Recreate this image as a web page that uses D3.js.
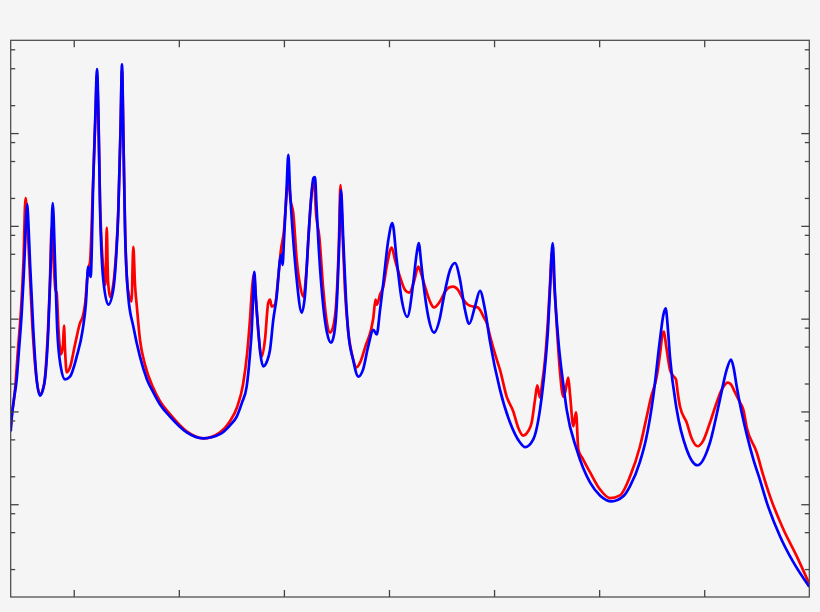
<!DOCTYPE html>
<html><head><meta charset="utf-8">
<script src="https://cdn.jsdelivr.net/npm/d3@7"></script>
<style>html,body{margin:0;padding:0;background:#f5f5f6;} svg{display:block}</style>
</head><body>
<svg id="chart" width="820" height="612"></svg>
<script>
// Frequency (Hz) and level (dB) of the two spectra
const freqBlue = [40.0,41.0,43.1,45.7,47.9,50.5,52.2,53.6,54.8,55.8,
56.7,58.4,61.5,64.7,67.9,70.7,72.6,75.8,78.1,80.0,
82.2,84.3,87.6,91.7,96.4,102.8,108.5,111.6,113.8,116.1,
118.6,120.7,122.1,123.6,125.0,128.1,132.9,137.6,140.2,142.4,
144.5,145.9,147.3,148.8,151.9,156.7,163.0,169.7,175.7,182.1,
191.6,207.5,223.3,239.2,248.7,255.1,260.1,264.6,267.7,269.4,
270.6,271.8,273.4,275.6,277.7,280.4,283.9,286.8,289.9,293.1,
296.3,297.7,298.7,300.1,302.5,304.2,305.8,308.9,312.2,316.9,
320.1,323.2,325.8,328.0,329.6,331.0,332.7,337.5,341.0,344.8,
347.7,350.2,352.4,354.3,356.5,359.1,361.3,365.8,370.8,375.3,
380.0,385.1,388.3,391.5,394.6,399.4,403.2,407.3,412.1,417.4,
423.1,426.2,428.3,430.5,432.7,437.4,442.8,448.5,451.7,458.1,
462.8,467.6,472.3,476.4,481.8,486.6,491.4,496.1,505.6,515.2,
524.7,529.5,537.3,543.7,548.5,551.3,553.2,555.8,558.0,561.1,
565.9,569.1,578.6,591.3,600.8,611.9,623.0,629.4,638.9,644.6,
651.5,657.9,661.2,663.3,665.5,667.4,673.8,683.3,693.6,705.5,
715.0,721.4,725.5,727.9,730.9,734.1,740.4,746.7,753.1,759.5,
772.1,784.8,800.0];
const levelBlue = [-84.3,-81.3,-77.4,-73.1,-66.7,-58.7,-51.6,-44.5,-37.6,-35.3,
-38.7,-48.0,-62.4,-73.1,-76.6,-75.3,-73.1,-62.4,-48.0,-35.1,
-48.0,-62.4,-70.3,-73.1,-72.5,-68.2,-62.4,-56.6,-48.8,-51.0,
-30.1,-15.1,-6.2,-17.2,-35.9,-51.6,-57.0,-53.8,-47.3,-37.2,
-19.4,-5.2,-21.5,-40.9,-55.3,-61.7,-68.2,-73.1,-75.9,-78.5,
-81.1,-84.5,-85.8,-84.9,-83.0,-81.1,-78.1,-74.6,-67.7,-62.4,
-55.9,-49.9,-55.9,-62.4,-67.7,-70.3,-69.2,-66.7,-60.2,-55.3,
-47.3,-46.2,-48.4,-43.0,-32.3,-24.7,-32.3,-43.0,-51.6,-58.7,
-54.8,-43.0,-34.4,-29.7,-29.5,-35.5,-43.0,-57.4,-63.0,-65.2,
-63.4,-57.4,-45.2,-32.3,-43.0,-55.9,-63.0,-68.8,-72.5,-71.0,
-66.2,-62.4,-63.4,-58.1,-52.3,-43.0,-39.4,-47.3,-55.9,-59.6,
-52.3,-46.2,-43.7,-47.7,-52.3,-59.6,-63.0,-59.8,-55.9,-49.5,
-48.0,-51.6,-58.1,-61.1,-57.4,-54.0,-58.1,-64.9,-75.3,-82.4,
-86.7,-87.7,-86.0,-79.6,-70.3,-62.4,-53.8,-43.7,-54.8,-64.5,
-74.2,-79.6,-88.2,-95.3,-98.1,-99.4,-98.3,-96.1,-90.8,-86.0,
-76.8,-64.5,-59.1,-57.8,-62.4,-68.2,-79.6,-88.2,-91.6,-86.7,
-77.4,-71.0,-68.8,-70.5,-74.6,-78.5,-84.9,-90.3,-94.8,-99.6,
-106.9,-112.5,-117.8];

const freqRed = [40.0,41.2,44.1,46.9,49.8,52.2,54.1,55.5,57.4,60.3,
64.1,67.9,71.7,74.5,77.4,79.0,80.7,82.6,83.7,85.5,
87.9,89.8,90.7,91.7,93.3,96.4,101.2,106.0,108.5,110.7,
113.6,115.5,118.3,120.7,122.1,123.6,125.0,127.8,130.2,131.4,
132.6,134.5,137.6,140.2,142.4,144.5,145.9,147.3,148.8,151.6,
155.0,156.7,158.3,159.9,163.0,167.8,175.4,182.1,191.6,207.5,
223.3,239.2,248.7,255.4,261.1,264.9,267.7,269.6,271.5,273.4,
275.8,278.8,282.0,285.1,286.8,288.4,291.5,294.4,297.2,300.1,
302.5,304.2,306.3,308.9,312.2,315.3,318.5,321.5,324.4,326.7,
328.6,330.7,333.7,337.5,340.5,343.9,346.7,350.0,352.4,353.8,
355.7,358.1,361.0,364.8,369.3,372.4,378.1,382.9,385.1,387.2,
388.6,391.5,394.6,398.1,402.6,405.7,410.5,415.2,419.3,423.8,
427.9,430.9,434.3,439.0,442.8,448.5,453.3,457.1,461.2,465.7,
470.7,475.2,480.2,484.7,486.6,490.4,493.0,496.1,502.5,505.6,
512.0,518.3,522.8,527.8,532.3,535.8,539.0,541.1,543.7,545.6,
548.5,551.3,553.2,555.1,557.0,559.9,562.7,565.9,567.8,570.6,
572.3,575.4,578.0,580.2,584.6,591.3,600.8,610.3,619.8,629.4,
638.9,645.3,649.3,654.8,657.9,660.3,661.7,663.6,667.4,670.3,
673.1,675.0,676.9,683.3,688.4,693.8,698.8,705.5,711.2,716.6,
719.7,722.3,725.5,729.3,734.1,737.2,740.4,749.9,756.2,762.6,
775.3,788.0,800.0];
const levelRed = [-83.4,-80.6,-75.3,-66.7,-58.1,-47.3,-34.0,-37.6,-46.2,-60.2,
-72.0,-76.3,-74.2,-66.7,-51.6,-40.2,-47.3,-53.8,-54.4,-62.4,
-67.7,-65.6,-61.5,-66.7,-71.6,-70.5,-65.6,-60.9,-59.6,-57.0,
-49.5,-47.7,-31.2,-16.1,-7.5,-18.3,-34.4,-48.4,-52.7,-40.4,
-51.6,-55.3,-52.7,-46.2,-36.6,-19.4,-6.5,-21.5,-39.8,-53.8,
-56.3,-44.5,-52.7,-57.0,-64.5,-69.9,-74.8,-77.8,-80.6,-84.3,
-85.8,-84.5,-82.1,-79.1,-74.2,-67.7,-60.2,-53.8,-50.5,-55.9,
-63.4,-68.2,-64.5,-56.6,-55.9,-57.4,-57.0,-51.6,-45.2,-40.9,
-33.3,-29.7,-34.4,-37.2,-47.3,-52.7,-55.3,-49.5,-38.7,-32.3,
-30.5,-37.6,-42.4,-53.8,-60.2,-63.0,-61.9,-55.9,-43.0,-31.2,
-40.9,-53.8,-62.4,-67.7,-70.5,-69.5,-65.6,-62.4,-59.8,-55.9,
-57.0,-54.8,-53.1,-48.4,-44.7,-47.3,-51.0,-53.8,-54.4,-52.0,
-48.8,-50.5,-53.1,-56.3,-57.6,-56.3,-54.2,-53.3,-53.1,-53.8,
-55.9,-57.0,-57.4,-57.6,-58.1,-59.8,-60.9,-63.7,-68.8,-71.0,
-76.8,-80.0,-83.4,-85.2,-84.3,-82.4,-77.4,-74.4,-77.0,-74.2,
-68.8,-60.2,-52.7,-45.6,-51.6,-62.4,-71.4,-76.8,-75.7,-72.7,
-76.3,-83.2,-80.2,-88.2,-90.3,-93.1,-96.8,-98.7,-98.1,-94.0,
-87.5,-81.1,-77.0,-72.5,-67.7,-63.4,-62.8,-65.6,-71.0,-72.3,
-73.1,-76.3,-78.9,-82.4,-86.0,-87.5,-86.4,-82.4,-78.5,-75.3,
-74.2,-73.8,-74.2,-75.9,-78.1,-79.6,-83.4,-88.8,-93.8,-98.3,
-105.4,-111.2,-117.2];

const xTicks = [100, 200, 300, 400, 500, 600, 700];
const yMajorTicks = [-100, -80, -60, -40, -20];
const yMinorMultipliers = [2, 5, 8];
const xDomain = [40, 800];
const yDomain = [-120, 0];

(function () {
const svg = d3.select("#chart");
const W = 820, H = 612;
const pLeft = 10.7, pRight = 809.3, pTop = 40.3, pBottom = 597;

svg.append("rect").attr("width", W).attr("height", H).attr("fill", "#f5f5f6");

const x = d3.scaleLinear().domain(xDomain).range([pLeft, pRight]);
const y = d3.scaleLinear().domain(yDomain).range([pBottom, pTop]);

// minor y ticks: within each 20 dB decade at 2x, 5x, 8x
const yMinorTicks = [];
for (let d = yDomain[0]; d < yDomain[1]; d += 20) {
  yMinorMultipliers.forEach(m => yMinorTicks.push(d + 20 * Math.log10(m)));
}

svg.append("defs").append("clipPath").attr("id", "clip")
  .append("rect").attr("x", pLeft).attr("y", pTop)
  .attr("width", pRight - pLeft).attr("height", pBottom - pTop);

const line = d3.line()
  .x(d => x(d[0])).y(d => y(d[1]))
  .curve(d3.curveMonotoneX);

const plot = svg.append("g").attr("clip-path", "url(#clip)");
plot.append("path")
  .attr("d", line(d3.zip(freqRed, levelRed)))
  .attr("fill", "none").attr("stroke", "#ff0000")
  .attr("stroke-width", 2.7).attr("stroke-linejoin", "round");
plot.append("path")
  .attr("d", line(d3.zip(freqBlue, levelBlue)))
  .attr("fill", "none").attr("stroke", "#0000ff")
  .attr("stroke-width", 2.7).attr("stroke-linejoin", "round");

function styleAxis(g) {
  g.select(".domain").remove();
  g.selectAll("text").remove();
  g.selectAll(".tick line").attr("stroke", "#444").attr("stroke-width", 1.3);
}

svg.append("g").attr("transform", `translate(0,${pBottom})`)
  .call(d3.axisBottom(x).tickValues(xTicks).tickSize(-7).tickFormat(""))
  .call(styleAxis);
svg.append("g").attr("transform", `translate(0,${pTop})`)
  .call(d3.axisTop(x).tickValues(xTicks).tickSize(-7).tickFormat(""))
  .call(styleAxis);
svg.append("g").attr("transform", `translate(${pLeft},0)`)
  .call(d3.axisLeft(y).tickValues(yMajorTicks).tickSize(-8).tickFormat(""))
  .call(styleAxis);
svg.append("g").attr("transform", `translate(${pLeft},0)`)
  .call(d3.axisLeft(y).tickValues(yMinorTicks).tickSize(-4.5).tickFormat(""))
  .call(styleAxis);
svg.append("g").attr("transform", `translate(${pRight},0)`)
  .call(d3.axisRight(y).tickValues(yMajorTicks).tickSize(-8).tickFormat(""))
  .call(styleAxis);
svg.append("g").attr("transform", `translate(${pRight},0)`)
  .call(d3.axisRight(y).tickValues(yMinorTicks).tickSize(-4.5).tickFormat(""))
  .call(styleAxis);

svg.append("rect")
  .attr("x", pLeft).attr("y", pTop)
  .attr("width", pRight - pLeft).attr("height", pBottom - pTop)
  .attr("fill", "none").attr("stroke", "#444").attr("stroke-width", 1.2);
})();
</script>
</body></html>
